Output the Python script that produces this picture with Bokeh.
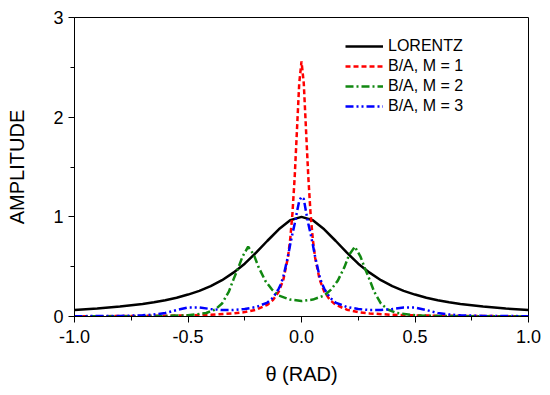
from bokeh.plotting import figure
from bokeh.models import Legend, LegendItem, FixedTicker, NumeralTickFormatter
from bokeh.embed import file_html
from bokeh.resources import INLINE

# ---- data ----
lor_x = [-1.0, -0.9, -0.8, -0.7, -0.65, -0.6, -0.55, -0.5, -0.45, -0.4, -0.35, -0.3, -0.25, -0.2,
         -0.15, -0.1, -0.05, 0.0, 0.05, 0.1, 0.15, 0.2, 0.25, 0.3, 0.35, 0.4, 0.45, 0.5, 0.55,
         0.6, 0.65, 0.7, 0.8, 0.9, 1.0]
lor_y = [0.065, 0.08, 0.10, 0.125, 0.142, 0.163, 0.188, 0.22, 0.257, 0.305, 0.364, 0.44, 0.53, 0.64,
         0.76, 0.875, 0.966, 1.0, 0.966, 0.875, 0.76, 0.64, 0.53, 0.44, 0.364, 0.305, 0.257, 0.22, 0.188,
         0.163, 0.142, 0.125, 0.10, 0.08, 0.065]

m1_x = [-1.0, -0.8, -0.6, -0.5, -0.4, -0.3, -0.25, -0.2, -0.15, -0.125, -0.1, -0.08, -0.06, -0.05,
        -0.04, -0.03, -0.02, -0.01, 0.0, 0.01, 0.02, 0.03, 0.04, 0.05, 0.06, 0.08, 0.1, 0.125,
        0.15, 0.2, 0.25, 0.3, 0.4, 0.5, 0.6, 0.8, 1.0]
m1_y = [0.003, 0.004, 0.008, 0.011, 0.017, 0.031, 0.044, 0.068, 0.118, 0.167, 0.25, 0.37, 0.59, 0.77,
        1.03, 1.40, 1.87, 2.34, 2.56, 2.34, 1.87, 1.40, 1.03, 0.77, 0.59, 0.37, 0.25, 0.167,
        0.118, 0.068, 0.044, 0.031, 0.017, 0.011, 0.008, 0.004, 0.003]

m2_x = [-1.0, -0.8, -0.6, -0.5, -0.42, -0.38, -0.35, -0.32, -0.30, -0.28, -0.26, -0.235, -0.21,
        -0.19, -0.16, -0.13, -0.1, -0.05, 0.0, 0.05, 0.1, 0.13, 0.16, 0.19, 0.21, 0.235, 0.26,
        0.28, 0.30, 0.32, 0.35, 0.38, 0.42, 0.5, 0.6, 0.8, 1.0]
m2_y = [0.001, 0.002, 0.005, 0.012, 0.035, 0.07, 0.13, 0.25, 0.37, 0.48, 0.60, 0.70, 0.62,
        0.50, 0.36, 0.27, 0.21, 0.17, 0.155, 0.17, 0.21, 0.27, 0.36, 0.50, 0.62, 0.70, 0.60,
        0.48, 0.37, 0.25, 0.13, 0.07, 0.035, 0.012, 0.005, 0.002, 0.001]

m3_x = [-1.0, -0.8, -0.7, -0.65, -0.6, -0.55, -0.5, -0.45, -0.4, -0.35, -0.3, -0.25, -0.2, -0.15,
        -0.125, -0.1, -0.09, -0.08, -0.07, -0.06, -0.05, -0.04, -0.03, -0.02, -0.01, 0.0,
        0.01, 0.02, 0.03, 0.04, 0.05, 0.06, 0.07, 0.08, 0.09, 0.1, 0.125, 0.15, 0.2, 0.25,
        0.3, 0.35, 0.4, 0.45, 0.5, 0.55, 0.6, 0.65, 0.7, 0.8, 1.0]
m3_y = [0.003, 0.006, 0.012, 0.02, 0.035, 0.065, 0.09, 0.09, 0.075, 0.065, 0.065, 0.075, 0.095, 0.14,
        0.19, 0.28, 0.33, 0.40, 0.50, 0.60, 0.72, 0.83, 0.93, 1.05, 1.16, 1.20,
        1.18, 1.05, 0.93, 0.83, 0.72, 0.60, 0.50, 0.40, 0.33, 0.28, 0.19, 0.14, 0.095, 0.075,
        0.065, 0.065, 0.075, 0.09, 0.09, 0.065, 0.035, 0.02, 0.012, 0.006, 0.003]

x_ticks = [-1.0, -0.5, 0.0, 0.5, 1.0]
y_ticks = [0, 1, 2, 3]

FONT = "Liberation Sans"

p = figure(width=542, height=387, output_backend="svg", toolbar_location=None,
           x_range=(-1.0, 1.0), y_range=(0, 3),
           min_border_left=74, min_border_right=14, min_border_top=17, min_border_bottom=68)
p.background_fill_color = "white"
p.border_fill_color = "white"
p.outline_line_color = "black"
p.outline_line_width = 1
p.xgrid.visible = False
p.ygrid.visible = False

r_lor = p.line(lor_x, lor_y, line_color="black", line_width=2.5)
r_m1 = p.line(m1_x, m1_y, line_color="#ff0000", line_width=2.5, line_dash="5 3")
r_m2 = p.line(m2_x, m2_y, line_color="#118811", line_width=2.5, line_dash="8 3 2 3")
r_m3 = p.line(m3_x, m3_y, line_color="#0000ff", line_width=2.5, line_dash="8 3 2 3 2 3")

for ax in (p.xaxis[0], p.yaxis[0]):
    ax.axis_line_color = "black"
    ax.major_tick_line_color = "black"
    ax.minor_tick_line_color = "black"
    ax.major_tick_in = 0
    ax.major_tick_out = 6
    ax.minor_tick_in = 0
    ax.minor_tick_out = 4
    ax.major_label_text_font = FONT
    ax.major_label_text_font_size = "18px"
    ax.major_label_text_color = "black"
    ax.axis_label_text_font = FONT
    ax.axis_label_text_font_size = "20px"
    ax.axis_label_text_font_style = "normal"
    ax.axis_label_text_color = "black"

p.xaxis.ticker = FixedTicker(ticks=x_ticks, minor_ticks=[-0.75, -0.25, 0.25, 0.75])
p.yaxis.ticker = FixedTicker(ticks=y_ticks, minor_ticks=[0.5, 1.5, 2.5])
p.xaxis.formatter = NumeralTickFormatter(format="0.0")
p.yaxis.formatter = NumeralTickFormatter(format="0")
p.xaxis.axis_label = "θ (RAD)"
p.yaxis.axis_label = "AMPLITUDE"
p.xaxis.major_label_standoff = 7
p.xaxis.axis_label_standoff = 17
p.yaxis.major_label_standoff = 5
p.yaxis.axis_label_standoff = 22

legend = Legend(items=[
    LegendItem(label="LORENTZ", renderers=[r_lor]),
    LegendItem(label="B/A, M = 1", renderers=[r_m1]),
    LegendItem(label="B/A, M = 2", renderers=[r_m2]),
    LegendItem(label="B/A, M = 3", renderers=[r_m3]),
], location=(271, 200))
legend.border_line_color = None
legend.background_fill_alpha = 0
legend.padding = 0
legend.margin = 0
legend.spacing = 0
legend.glyph_width = 38
legend.glyph_height = 20
legend.label_height = 20
legend.label_standoff = 5
legend.label_text_font = FONT
legend.label_text_font_size = "16px"
legend.label_text_color = "black"
p.add_layout(legend, "center")

open("out.html", "w").write(file_html(p, INLINE))
